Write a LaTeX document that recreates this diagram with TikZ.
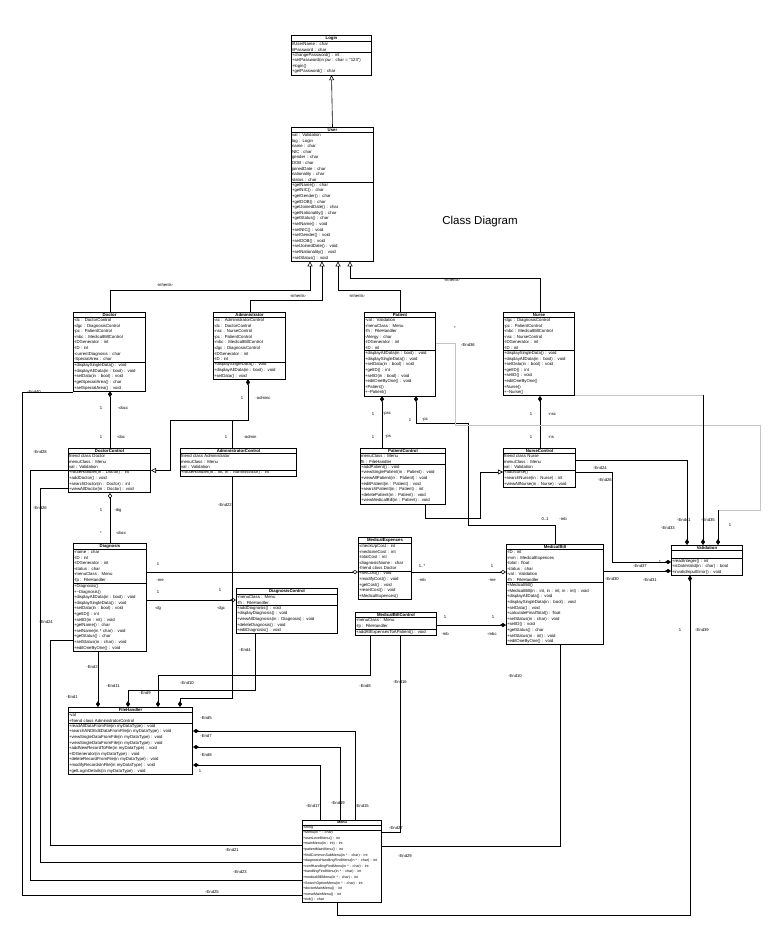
\documentclass[tikz,border=0pt]{standalone}
\usepackage{fontspec}
\setmainfont{Liberation Sans}
\usetikzlibrary{shapes.multipart,arrows.meta}
\begin{document}
\begin{tikzpicture}[x=1pt,y=-1pt,
  uml/.style={draw,line width=0.6pt,rectangle split,rectangle split parts=3,
    anchor=north west,text width=#1,inner sep=0.7pt,align=left,font=\fontsize{4.3}{5.6}\selectfont},
  ln/.style={line width=0.6pt},
  gl/.style={line width=0.6pt,draw=gray!45},
  gen/.style={ln,-{Triangle[open,length=5pt,width=5pt]}},
  comp/.style={ln,{Diamond[length=6pt,width=4pt]}-},
  compend/.style={ln,-{Diamond[length=6pt,width=4pt]}},
  agg/.style={ln,{Diamond[open,length=6pt,width=4pt]}-},
  aggend/.style={ln,-{Diamond[open,length=6pt,width=4pt]}},
  lbl/.style={font=\fontsize{4.2}{5}\selectfont,inner sep=0pt}]
\useasboundingbox (0,0) rectangle (768,939);
\fill[white] (0,0) rectangle (768,939);
\newcommand\lb[3]{\node[lbl] at (#1,#2) {#3};}
\newcommand\ttl[1]{\makebox[\linewidth][c]{\textbf{#1}}}

\node[uml=79pt] (login) at (291,35) {\ttl{Login}\nodepart{two}\#UserName : char\\\#Password : char\nodepart{three}+changePassword() : int\\+setPassword(in pw : char = "123")\\+login()\\+getPassword() : char};
\node[uml=81pt] (user) at (291,127) {\ttl{User}\nodepart{two}val : Validation\\log : Login\\name : char\\NIC : char\\gender : char\\DOB : char\\joinedDate : char\\nationality : char\\status : char\nodepart{three}+getName() : char\\+getNIC() : char\\+getGender() : char\\+getDOB() : char\\+getJoinedDate() : char\\+getNationality() : char\\+getStatus() : char\\+setName() : void\\+setNIC() : void\\+setGender() : void\\+setDOB() : void\\+setJoinedDate() : void\\+setNationality() : void\\+setStatus() : void};
\node[font=\fontsize{11.5}{13}\selectfont] (title) at (480,222) {Class Diagram};

\node[uml=71pt] (doc) at (73,312) {\ttl{Doctor}\nodepart{two}-dc : DoctorControl\\-dgc : DiagnosisControl\\-pc : PatientControl\\-mbc : MedicalBillControl\\-IDGenerator : int\\-ID : int\\-currentDiagnosis : char\\-SpecialArea : char\nodepart{three}+displaySingleData() : void\\+displayAllData(in : bool) : void\\+setData(in : bool) : void\\+getSpecialArea() : char\\+setSpecialArea() : void};
\node[uml=71pt] (adm) at (213,312) {\ttl{Administrator}\nodepart{two}-ac : AdministratorControl\\-dc : DoctorControl\\-nsc : NurseControl\\-pc : PatientControl\\-mbc : MedicalBillControl\\-dgc : DiagnosisControl\\-IDGenerator : int\\-ID : int\nodepart{three}+displaySingleData() : void\\+displayAllData(in : bool) : void\\+setData() : void};
\node[uml=70pt] (pat) at (364,312) {\ttl{Patient}\nodepart{two}-val : Validation\\-menuClass : Menu\\-fh : FileHandler\\-Alergy : char\\-IDGenerator : int\\-ID : int\nodepart{three}+displayAllData(in : bool) : void\\+displaySingleData() : void\\+setData(in : bool) : void\\+getID() : int\\+setID(in : bool) : void\\+editOneByOne() : void\\+Patient()\\+\textasciitilde Patient()};
\node[uml=70pt] (nur) at (503,312) {\ttl{Nurse}\nodepart{two}-dgc : DiagnosisControl\\-pc : PatientControl\\-mbc : MedicalBillControl\\-nsc : NurseControl\\-IDGenerator : int\\-ID : int\nodepart{three}+displaySingleData() : void\\+displayAllData(in : bool) : void\\+setData(in : bool) : void\\+getID() : int\\+setID() : void\\+editOneByOne()\\+Nurse()\\+\textasciitilde Nurse()};

\node[uml=81pt] (docc) at (68,448) {\ttl{DoctorControl}\nodepart{two}friend class Doctor\\menuClass : Menu\\val : Validation\nodepart{three}+routeHandler(in : Doctor) : int\\+addDoctor() : void\\+searchDoctor(in : Doctor) : int\\+viewAllDoctor(in : Doctor) : void};
\node[uml=115pt] (admc) at (180,448) {\ttl{AdministratorControl}\nodepart{two}friend class Administrator\\menuClass : Menu\\val : Validation\nodepart{three}+routeHandler(in : int, in : Administrator) : int};
\node[uml=84pt] (patc) at (360,448) {\ttl{PatientControl}\nodepart{two}menuClass : Menu\\fh : FileHandler\nodepart{three}+addPatient() : void\\+viewSinglePatient(in : Patient) : void\\+viewAllPatient(in : Patient) : void\\+editPatient(in : Patient) : void\\+searchPatient(in : Patient) : int\\+deletePatient(in : Patient) : void\\+viewMedicalBill(in : Patient) : void};
\node[uml=71pt] (nurc) at (503,448) {\ttl{NurseControl}\nodepart{two}friend class Nurse\\menuClass : Menu\\val : Validation\nodepart{three}+addNurse()\\+searchNurse(in : Nurse) : int\\+viewAllNurse(in : Nurse) : void};

\node[uml=72pt] (diag) at (73,543) {\ttl{Diagnosis}\nodepart{two}-name : char\\-ID : int\\-IDGenerator : int\\-status : char\\-menuClass : Menu\\-fp : FileHandler\nodepart{three}+Diagnosis()\\+\textasciitilde Diagnosis()\\+displayAllData(in : bool) : void\\+displaySingleData() : void\\+setData(in : bool) : void\\+getID() : int\\+setID(in : int) : void\\+getName() : char\\+setName(in * char) : void\\+getStatus() : char\\+setStatus(in : char) : void\\+editOneByOne() : void};
\node[uml=100pt] (diagc) at (236,588) {\ttl{DiagnosisControl}\nodepart{two}-menuClass : Menu\\-fh : FileHandler\nodepart{three}+addDiagnosis() : void\\+displayDiagnosis() : void\\+viewAllDiagnosis(in : Diagnosis) : void\\+deleteDiagnosis() : void\\+editDiagnosis() : void};
\node[uml=52pt] (mexp) at (358,537) {\ttl{MedicalExpences}\nodepart{two}-checkUpCost : int\\-medicineCost : int\\-totalCost : int\\-diagnosisName : char\\-friend class Doctor\nodepart{three}+setCost() : void\\+modifyCost() : void\\+getCost() : void\\+resetCost() : void\\+MedicalExpences()};
\node[uml=80pt] (mbc) at (355,612) {\ttl{MedicalBillControl}\nodepart{two}-menuClass : Menu\\-fp : FileHandler\nodepart{three}+addAllExpensesToAPatient() : void};
\node[uml=96pt] (mbill) at (506,544) {\ttl{MedicalBill}\nodepart{two}-ID : int\\-mm : MedicalExpences\\-total : float\\-status : char\\-val : Validation\\-fh : FileHandler\nodepart{three}+MedicalBill()\\+MedicalBill(in : int, in : int, in : int) : void\\+displayAllData() : void\\+displaySingleData(in : bool) : void\\+setData() : void\\+calculateFinalTotal() : float\\+setStatus(in : char) : void\\+setID() : void\\+getStatus() : char\\+setStatus(in : int) : void\\+editOneByOne() : void};
\node[uml=70pt] (val) at (671,545) {\ttl{Validation}\nodepart{two}\strut\nodepart{three}+readInteger() : int\\+isDateValid(in : char) : bool\\+invalidInputError() : void};
\node[uml=123pt] (fh) at (68,707) {\ttl{FileHandler}\nodepart{two}-val\\+friend class AdministratorControl\nodepart{three}+readAllDataFromFile(in myDataType) : void\\+searchANDEditDataFromFile(in myDataType) : void\\+viewSingleDataFromFile(in myDataType) : void\\+viewSingleDataFromFile(in myDataType) : void\\+addNewRecordToFile(in myDataType) : void\\+IDGenerator(in myDataType) : void\\+deleteRecordFromFile(in myDataType) : void\\+modifyRecordsInFile(in myDataType) : void\\+getLoginDetails(in myDataType) : void};
\node[uml=78pt,font=\fontsize{3.6}{5.6}\selectfont] (menu) at (302,820) {\ttl{Menu}\nodepart{two}-string\nodepart{three}+Menu(in * : char)\\+userLevelMenu() : int\\+mainMenu(in : int) : int\\+patientMainMenu() : int\\+findCommonSubMenu(in * : char) : int\\+diagnosisHandlingFindMenu(in * : char) : int\\+confHandlingFindMenu(in * : char) : int\\+handlingFindMenu(in * : char) : int\\+medicalBillMenu(in * : char) : int\\+SearchOptionMenu(in * : char) : int\\+doctorMainMenu() : int\\+nurseMainMenu() : int\\+exit() : char};

% inheritance
\draw[gen] (user.north) -- (login.south);
\draw[gen] (110,0|-doc.north) -- (110,290) -- (310,290) -- (310,0|-user.south);
\draw[gen] (250,0|-adm.north) -- (250,300) -- (322,300) -- (322,0|-user.south);
\draw[gen] (400,0|-pat.north) -- (400,290) -- (338,290) -- (338,0|-user.south);
\draw[gen] (540,0|-nur.north) -- (540,278) -- (350,278) -- (350,0|-user.south);
\lb{165}{285}{-inherits-}\lb{298}{296}{-inherits-}\lb{357}{296}{-inherits-}\lb{452}{280}{-inherits-}

% compositions
\draw[comp] (110,0|-doc.south) -- (110,0|-docc.north);
\lb{101}{408}{1}\lb{123}{408}{-docc}\lb{101}{437}{1}\lb{121}{437}{-doc}
\draw[comp] (248,0|-adm.south) -- (248,420) -- (232,420) -- (232,0|-admc.north);
\draw[gen] (232,420) -- (170,420) -- (170,0|-docc.east) -- (docc.east);
\lb{242}{398}{1}\lb{263}{398}{-adminc}\lb{226}{437}{1}\lb{250}{437}{-admin}
\draw[comp] (382,0|-pat.south) -- (382,0|-patc.north);
\lb{373}{414}{1}\lb{387}{414}{-psc}\lb{373}{437}{1}\lb{388}{437}{-ps}
\draw[comp] (416,0|-pat.south) -- (416,423) -- (468,423) -- (468,525) -- (555,525) -- (555,0|-mbill.north);
\lb{410}{420}{1}\lb{425}{420}{-pc}\lb{545}{519}{0..1}\lb{563}{519}{-mb}
\draw[comp] (540,0|-nur.south) -- (540,0|-nurc.north);
\lb{531}{414}{1}\lb{552}{414}{-nsc}\lb{531}{437}{1}\lb{551}{437}{-ns}
\draw[gen] (425,0|-patc.south) -- (425,518) -- (480,518) -- (480,472) -- (nurc.west|-0,472);
\draw[agg] (110,0|-docc.south) -- (110,0|-diag.north);
\lb{101}{510}{1}\lb{118}{510}{-dig}\lb{101}{533}{*}\lb{121}{533}{-docc}

% diagnosis / bills
\draw[aggend] (diag.east|-0,600) -- (diagc.west|-0,600);
\lb{158}{592}{1}\lb{158}{608}{-dg}\lb{220}{590}{1}\lb{221}{608}{-dgc}
\draw[aggend] (diag.east|-0,572) -- (mexp.west|-0,572);
\lb{158}{564}{1}\lb{160}{580}{-me}
\draw[aggend] (mexp.east|-0,572) -- (mbill.west|-0,572);
\lb{422}{566}{1..*}\lb{422}{580}{-mb}\lb{492}{566}{1}\lb{492}{580}{-me}
\draw[compend] (mbc.east|-0,625) -- (mbill.west|-0,625);
\lb{445}{617}{1}\lb{445}{634}{-mb}\lb{493}{617}{1}\lb{492}{634}{-mbc}
\draw[compend] (mbill.east|-0,571) -- (val.west|-0,571);
\lb{612}{579}{-End30}\lb{640}{566}{-End37}\lb{650}{580}{-End31}
\draw[compend] (nurc.east|-0,472) -- (612,472) -- (612,562) -- (val.west|-0,562);
\lb{605}{480}{-End26}\lb{660}{562}{1}
\draw[compend] (nurc.east|-0,460) -- (687,460) -- (687,0|-val.north);
\lb{600}{468}{-End24}\lb{668}{528}{-End33}\lb{684}{520}{-End41}
\draw[gl] (pat.east|-0,343) -- (455,343) -- (455,425) -- (760,425) -- (760,510) -- (718,510);
\draw[compend] (718,510) -- (718,0|-val.north);
\lb{468}{345}{-End36}\lb{455}{328}{*}\lb{730}{525}{1}
\draw[gl] (nur.east|-0,395) -- (703,395);
\draw[compend] (703,395) -- (703,0|-val.north);
\lb{708}{520}{-End35}
\draw[comp] (690,0|-val.south) -- (690,915) -- (337,915) -- (337,0|-menu.south);
\lb{680}{630}{1}\lb{702}{630}{-End39}

% FileHandler
\draw[comp] (98,0|-fh.north) -- (98,0|-diag.south);
\lb{72}{697}{-End1}\lb{92}{667}{-End2}
\draw[comp] (128,0|-fh.north) -- (128,690) -- (255,690) -- (255,0|-diagc.south);
\lb{113}{686}{-End11}\lb{245}{650}{-End4}
\draw[comp] (158,0|-fh.north) -- (158,675) -- (370,675) -- (370,0|-mbc.south);
\lb{145}{693}{-End9}\lb{365}{686}{-End8}
\draw[comp] (180,0|-fh.north) -- (180,698) -- (232,698) -- (232,0|-admc.south);
\lb{187}{683}{-End10}\lb{225}{505}{-End22}
\draw[comp] (fh.east|-0,731) -- (355,731) -- (355,0|-menu.north);
\draw[comp] (fh.east|-0,747) -- (340,747) -- (340,0|-menu.north);
\draw[comp] (fh.east|-0,765) -- (320,765) -- (320,0|-menu.north);
\lb{206}{718}{-End5}\lb{206}{736}{-End7}\lb{206}{755}{-End8}\lb{200}{771}{1}
\lb{313}{806}{-End17}\lb{338}{803}{-End19}\lb{362}{806}{-End15}

% Menu left and right
\draw[ln] (doc.west|-0,392) -- (22,392) -- (22,895) -- (menu.west|-0,895);
\draw[ln] (docc.west|-0,470) -- (30,470) -- (30,880) -- (menu.west|-0,880);
\draw[ln] (docc.west|-0,488) -- (40,488) -- (40,862) -- (menu.west|-0,862);
\draw[ln] (diag.west|-0,640) -- (50,640) -- (50,845) -- (menu.west|-0,845);
\lb{34}{392}{-End40}\lb{40}{452}{-End28}\lb{40}{508}{-End26}\lb{46}{622}{-End24}
\lb{232}{850}{-End21}\lb{240}{872}{-End23}\lb{212}{892}{-End25}
\draw[ln] (menu.east|-0,832) -- (400,832) -- (400,0|-mbc.south);
\draw[ln] (menu.east|-0,846) -- (560,846) -- (560,0|-mbill.south);
\lb{396}{828}{-End27}\lb{405}{856}{-End29}\lb{400}{682}{-End16}\lb{515}{676}{-End10}
\end{tikzpicture}
\end{document}
